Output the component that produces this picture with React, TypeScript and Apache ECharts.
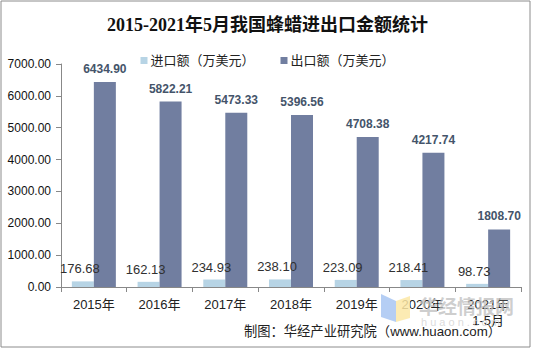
import React, { useEffect, useRef } from "react";
import * as echarts from "echarts";

const categories = ["2015年", "2016年", "2017年", "2018年", "2019年", "2020年", "2021年\n1-5月"];
const importValues = [176.68, 162.13, 234.93, 238.1, 223.09, 218.41, 98.73];
const exportValues = [6434.9, 5822.21, 5473.33, 5396.56, 4708.38, 4217.74, 1808.7];
const seriesNames = ["进口额（万美元）", "出口额（万美元）"];
const titleText = "2015-2021年5月我国蜂蜡进出口金额统计";
const sourceText = "制图：华经产业研究院（www.huaon.com）";

export default function App() {
  const ref = useRef<HTMLDivElement>(null);
  useEffect(() => {
    document.body.style.margin = "0";
    const chart = echarts.init(ref.current!, null, { renderer: "svg" });
    const sans = "'Liberation Sans', Arial, 'Noto Sans CJK SC', sans-serif";
    chart.setOption({
      animation: false,
      backgroundColor: "#ffffff",
      title: {
        text: titleText,
        left: "center",
        top: 11,
        textStyle: {
          fontFamily: "'Liberation Serif', 'Noto Sans CJK SC', serif",
          fontSize: 18,
          fontWeight: "bold",
          color: "#111",
        },
      },
      legend: {
        top: 49,
        left: "center",
        itemWidth: 7,
        itemHeight: 7,
        itemGap: 26,
        icon: "rect",
        textStyle: { fontFamily: sans, fontSize: 13, color: "#222", padding: [0, 0, 0, -2] },
        data: seriesNames,
      },
      grid: { left: 61, right: 14, top: 64, bottom: 64 },
      xAxis: {
        type: "category",
        data: categories,
        axisLine: { lineStyle: { color: "#888" } },
        axisTick: { show: true, length: 5, lineStyle: { color: "#888" } },
        axisLabel: { fontFamily: sans, fontSize: 13, color: "#222", margin: 9, lineHeight: 16, interval: 0 },
      },
      yAxis: {
        type: "value",
        min: 0,
        max: 7000,
        interval: 1000,
        splitLine: { show: false },
        axisLine: { show: true, lineStyle: { color: "#888" } },
        axisTick: { show: true, length: 5, lineStyle: { color: "#888" } },
        axisLabel: {
          fontFamily: sans,
          fontSize: 12,
          color: "#111",
          margin: 10,
          formatter: (v: number) => v.toFixed(2),
        },
      },
      series: [
        {
          name: seriesNames[0],
          type: "bar",
          data: importValues,
          barWidth: 22,
          barGap: "0%",
          itemStyle: { color: "#b7d4e5" },
          label: {
            show: true,
            position: "top",
            distance: 6,
            offset: [-3, 0],
            fontFamily: sans,
            fontSize: 13,
            color: "#303030",
            formatter: (p: any) => Number(p.value).toFixed(2),
          },
        },
        {
          name: seriesNames[1],
          type: "bar",
          data: exportValues,
          barWidth: 22,
          barGap: "0%",
          itemStyle: { color: "#717ea0" },
          label: {
            show: true,
            position: "top",
            distance: 7,
            fontFamily: sans,
            fontSize: 12,
            fontWeight: "bold",
            color: "#44546a",
            formatter: (p: any) => Number(p.value).toFixed(2),
          },
        },
      ],
      graphic: [
        {
          type: "rect",
          shape: { x: 1, y: 1, width: 529, height: 346 },
          style: { fill: "none", stroke: "#8c8c8c", lineWidth: 1 },
          silent: true,
          z: 100,
        },
        {
          type: "polygon",
          shape: { points: [[381, 294], [396, 301], [396, 322], [381, 317]] },
          style: { fill: "#a8c6f2", opacity: 0.85 },
          z: 100,
        },
        {
          type: "polygon",
          shape: { points: [[396, 301], [410, 296], [410, 318], [396, 322]] },
          style: { fill: "#fbe8a6", opacity: 0.85 },
          z: 100,
        },
        {
          type: "text",
          x: 419,
          y: 296,
          style: {
            text: "华经情报网",
            fontFamily: "'Noto Sans CJK SC', sans-serif",
            fontSize: 19,
            fontWeight: "bold",
            fill: "rgba(190,190,190,0.75)",
          },
          z: 100,
        },
        {
          type: "text",
          x: 421,
          y: 316,
          style: {
            text: "h u a o n . c o m",
            fontFamily: sans,
            fontSize: 11,
            fill: "rgba(210,210,210,0.8)",
          },
          z: 100,
        },
        {
          type: "text",
          right: 34,
          top: 325,
          style: {
            text: sourceText,
            fontFamily: sans,
            fontSize: 13.3,
            fill: "#222",
          },
          z: 101,
        },
      ],
    });
    return () => chart.dispose();
  }, []);
  return <div ref={ref} style={{ width: 535, height: 351, position: "fixed", left: 0, top: 0 }} />;
}
